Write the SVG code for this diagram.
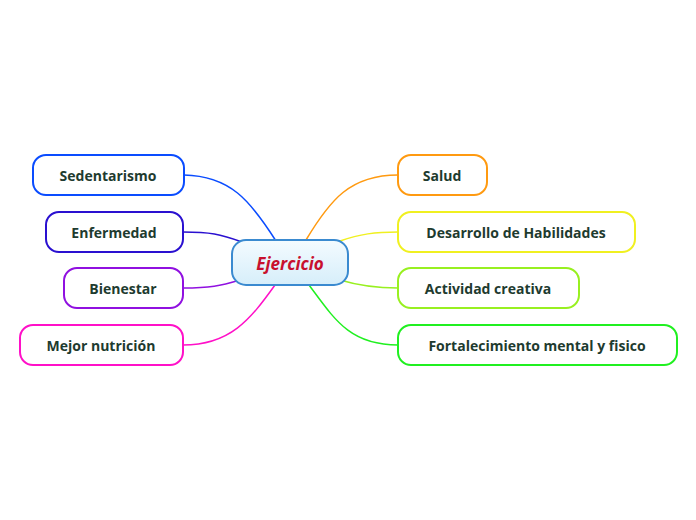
<svg xmlns="http://www.w3.org/2000/svg" width="696" height="520" viewBox="0 0 696 520">
<style>
.n{fill:#fff;stroke-width:2}
.t{font-family:"Open Sans",sans-serif;font-weight:bold;font-size:14px;fill:#1e3b2f;text-anchor:middle;dominant-baseline:central}
.c{fill:none;stroke-width:1.5}
</style>
<defs><linearGradient id="g" x1="0" y1="0" x2="0" y2="1"><stop offset="0" stop-color="#f4fbff"/><stop offset="1" stop-color="#d6eefa"/></linearGradient></defs>
<rect width="696" height="520" fill="#fff"/>
<g id="connectors">
<path class="c" stroke="#0a4cff" d="M276,241 C250,200 230,176 184,175"/>
<path class="c" stroke="#2a10d0" d="M242,242 C220,234 210,232 183,232"/>
<path class="c" stroke="#9010e0" d="M240,280 C220,286 210,288 183,288"/>
<path class="c" stroke="#ff10c8" d="M275,285 C250,320 230,345 183,345"/>
<path class="c" stroke="#ff9a10" d="M306,240 C330,200 350,175 398,175"/>
<path class="c" stroke="#f0f020" d="M340,241 C360,234 375,232 398,232"/>
<path class="c" stroke="#98f020" d="M340,280 C360,286 375,288 398,288"/>
<path class="c" stroke="#20f020" d="M309,285 C335,320 350,345 398,345"/>
</g>
<g id="center"><rect x="232" y="240" width="116" height="45" rx="14" fill="url(#g)" stroke="#3a8ad0" stroke-width="2"/>
<text x="290" y="263" class="t" style="font-style:italic;fill:#c8102e;font-size:17px">Ejercicio</text></g>
<g id="n1"><rect class="n" x="33" y="155" width="151" height="40" rx="13" stroke="#0a4cff"/><text class="t" x="108" y="175">Sedentarismo</text></g>
<g id="n2"><rect class="n" x="46" y="212" width="137" height="40" rx="13" stroke="#2a10d0"/><text class="t" x="114" y="232">Enfermedad</text></g>
<g id="n3"><rect class="n" x="64" y="268" width="119" height="40" rx="13" stroke="#9010e0"/><text class="t" x="123" y="288">Bienestar</text></g>
<g id="n4"><rect class="n" x="20" y="325" width="163" height="40" rx="13" stroke="#ff10c8"/><text class="t" x="101" y="345">Mejor nutrición</text></g>
<g id="n5"><rect class="n" x="398" y="155" width="89" height="40" rx="13" stroke="#ff9a10"/><text class="t" x="442" y="175">Salud</text></g>
<g id="n6"><rect class="n" x="398" y="212" width="237" height="40" rx="13" stroke="#f0f020"/><text class="t" x="516" y="232">Desarrollo de Habilidades</text></g>
<g id="n7"><rect class="n" x="398" y="268" width="181" height="40" rx="13" stroke="#98f020"/><text class="t" x="488" y="288">Actividad creativa</text></g>
<g id="n8"><rect class="n" x="398" y="325" width="279" height="40" rx="13" stroke="#20f020"/><text class="t" x="537" y="345">Fortalecimiento mental y fisico</text></g>
</svg>
